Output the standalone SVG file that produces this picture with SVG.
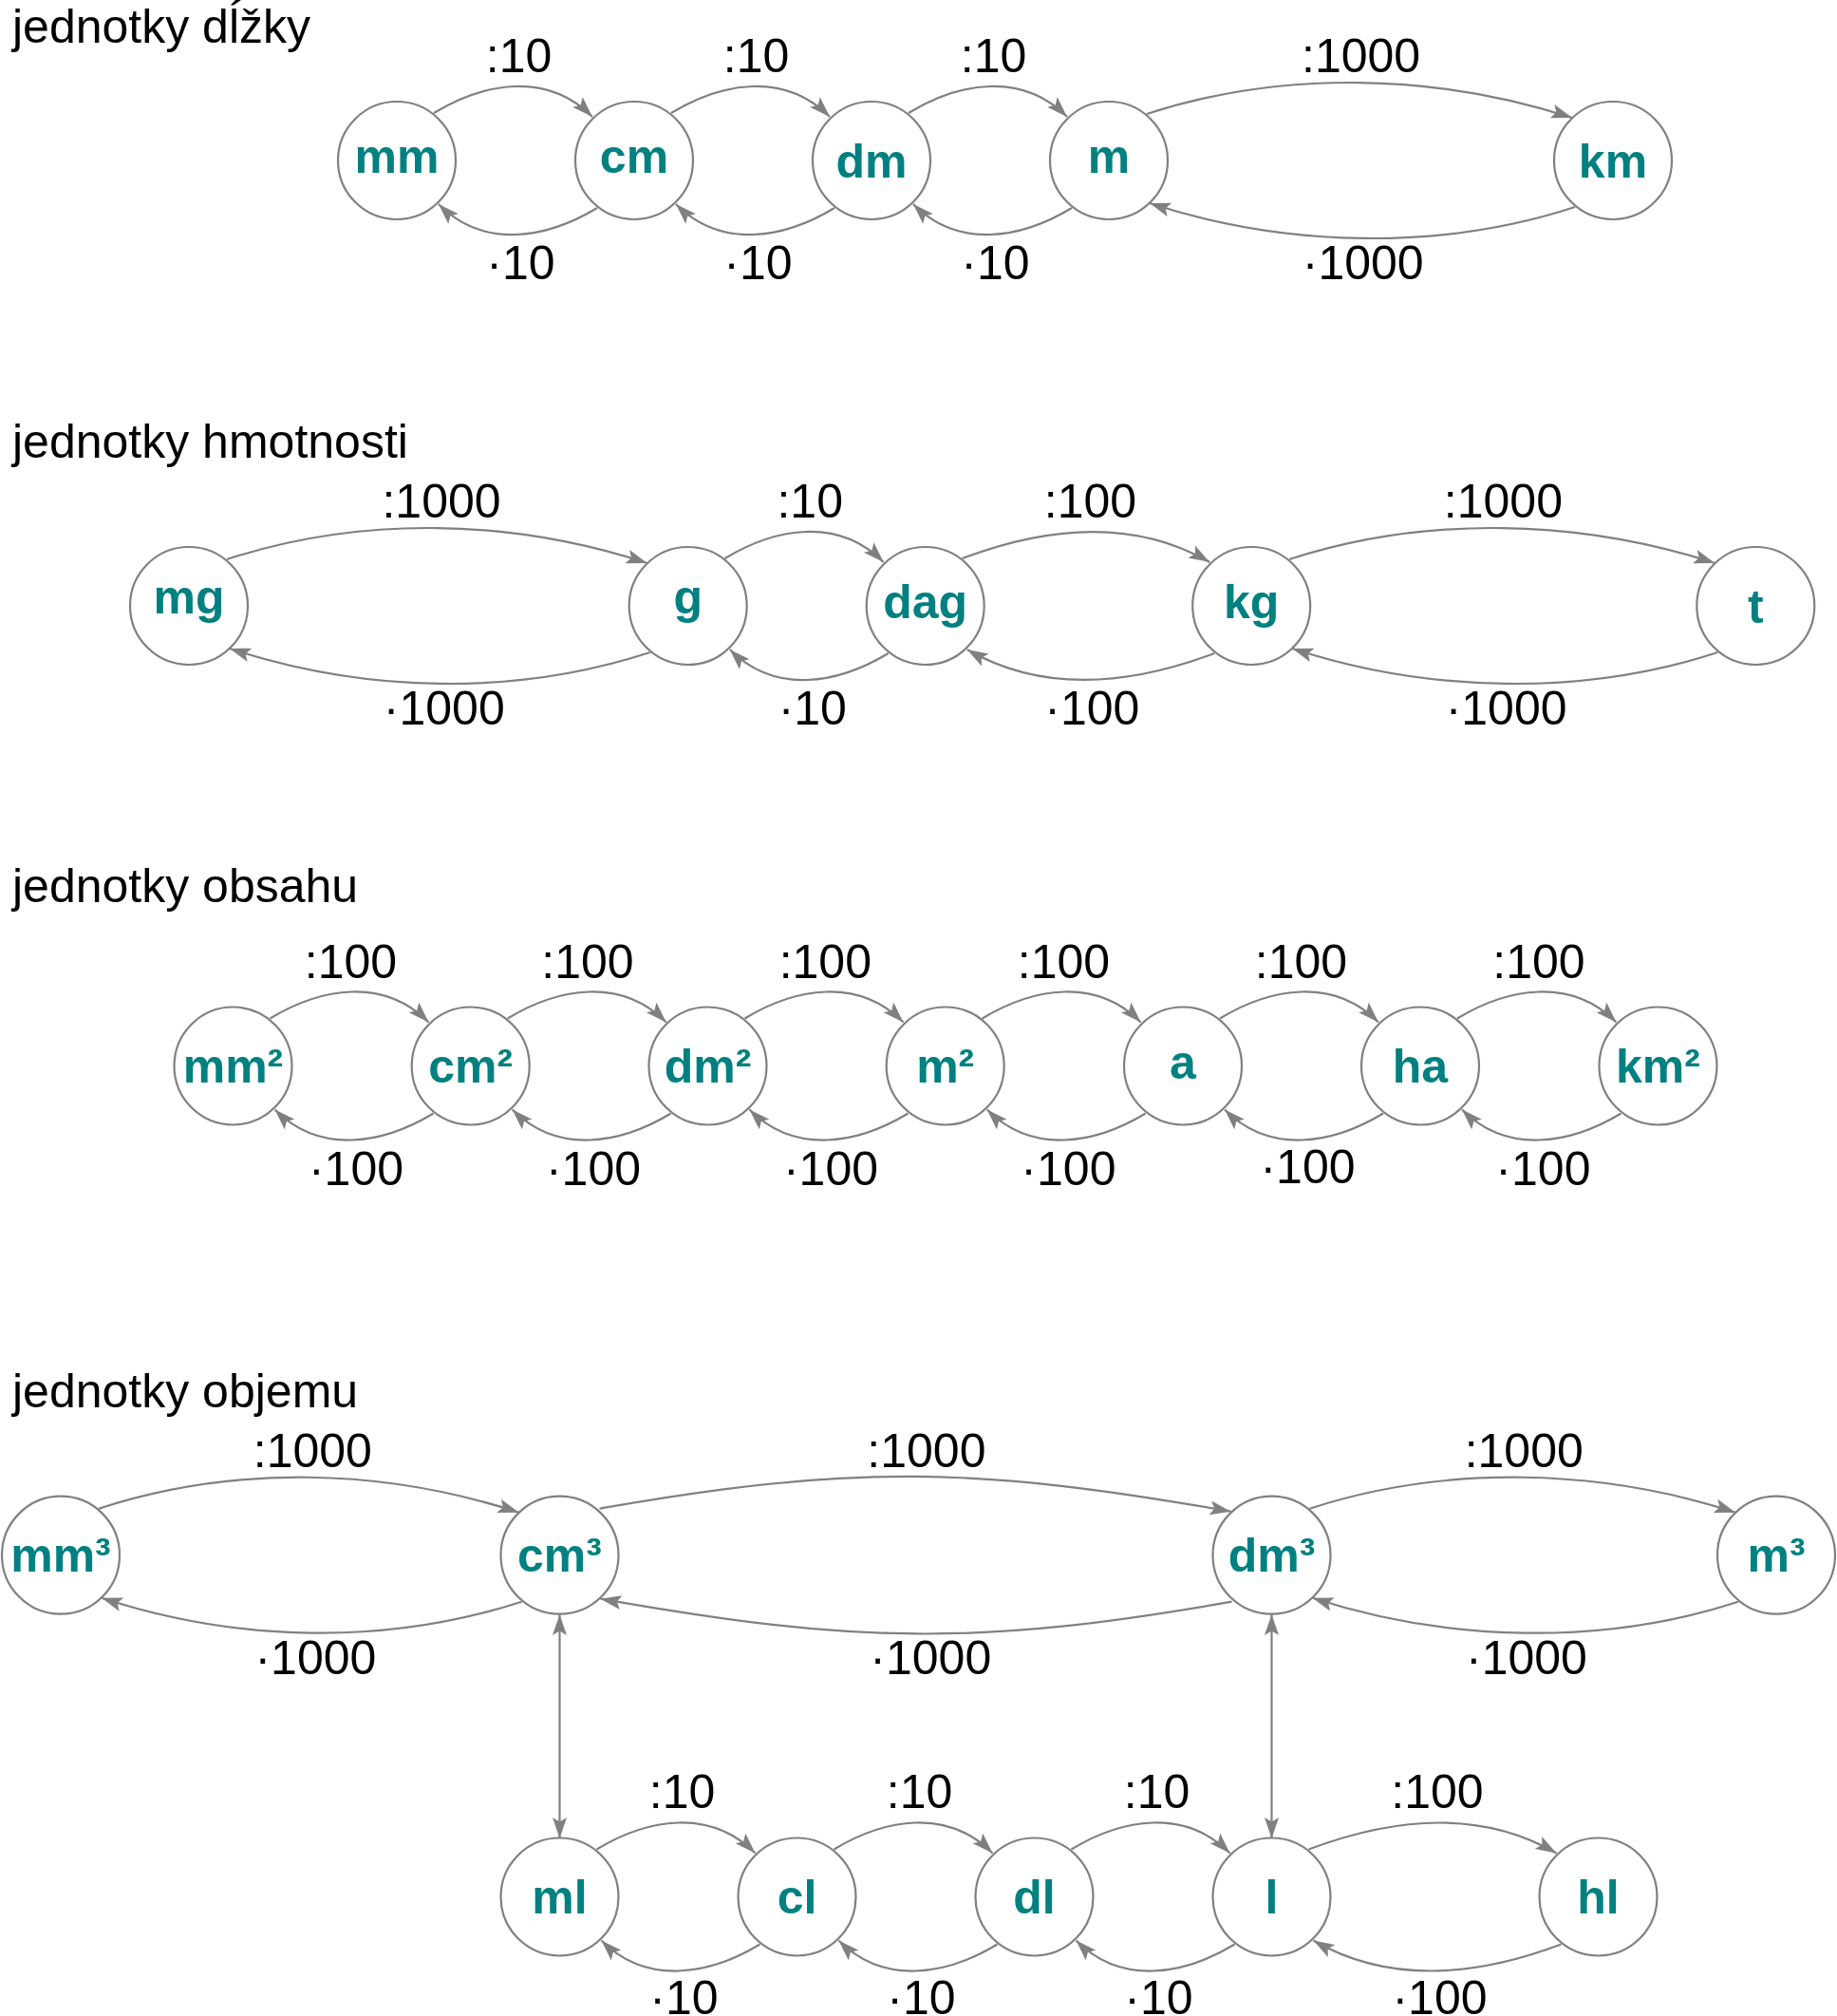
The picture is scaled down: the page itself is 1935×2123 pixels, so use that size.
<svg xmlns="http://www.w3.org/2000/svg" width="1935" height="2123" viewBox="0 0 1935 2123">
<defs>
<style>
.title{font-family:"Liberation Sans",Arial,sans-serif;font-size:50px;fill:#000}
.lbl{font-family:"Liberation Sans",Arial,sans-serif;font-size:50px;fill:#000;text-anchor:middle}
.node circle{fill:#fff;stroke:#808080;stroke-width:2.2}
.node text{font-family:"Liberation Sans",Arial,sans-serif;font-weight:bold;font-size:50px;fill:#008080;text-anchor:middle}
.edges path{fill:none;stroke:#808080;stroke-width:2.2;marker-end:url(#ah)}
.edges path.both{marker-start:url(#ah)}
</style>
<marker id="ah" markerUnits="userSpaceOnUse" markerWidth="24" markerHeight="17" refX="22" refY="7.5" orient="auto-start-reverse"><path d="M0,0 L22,7.5 L0,15 L4.5,7.5 z" fill="#808080"/></marker>
</defs>
<rect width="1935" height="2123" fill="#fff"/>

<g id="titles">
<text class="title" x="13" y="45">jednotky dĺžky</text>
<text class="title" x="13" y="481.7">jednotky hmotnosti</text>
<text class="title" x="13" y="950">jednotky obsahu</text>
<text class="title" x="13" y="1481.7">jednotky objemu</text>
</g>

<g id="nodes">
<g id="len-mm" class="node"><circle cx="418" cy="169" r="62"/><text x="418" y="182">mm</text></g>
<g id="len-cm" class="node"><circle cx="668" cy="169" r="62"/><text x="668" y="182">cm</text></g>
<g id="len-dm" class="node"><circle cx="918" cy="169" r="62"/><text x="918" y="186.5">dm</text></g>
<g id="len-m" class="node"><circle cx="1168" cy="169" r="62"/><text x="1168" y="182">m</text></g>
<g id="len-km" class="node"><circle cx="1699" cy="169" r="62"/><text x="1699" y="186.5">km</text></g>

<g id="mass-mg" class="node"><circle cx="199" cy="638" r="62"/><text x="199" y="646">mg</text></g>
<g id="mass-g" class="node"><circle cx="724.7" cy="638" r="62"/><text x="724.7" y="646">g</text></g>
<g id="mass-dag" class="node"><circle cx="974.7" cy="638" r="62"/><text x="974.7" y="651">dag</text></g>
<g id="mass-kg" class="node"><circle cx="1318.2" cy="638" r="62"/><text x="1318.2" y="651">kg</text></g>
<g id="mass-t" class="node"><circle cx="1849.3" cy="638" r="62"/><text x="1849.3" y="655.5">t</text></g>

<g id="area-mm2" class="node"><circle cx="245.5" cy="1122.5" r="62"/><text x="245.5" y="1140">mm²</text></g>
<g id="area-cm2" class="node"><circle cx="495.7" cy="1122.5" r="62"/><text x="495.7" y="1140">cm²</text></g>
<g id="area-dm2" class="node"><circle cx="745.5" cy="1122.5" r="62"/><text x="745.5" y="1140">dm²</text></g>
<g id="area-m2" class="node"><circle cx="995.7" cy="1122.5" r="62"/><text x="995.7" y="1140">m²</text></g>
<g id="area-a" class="node"><circle cx="1246" cy="1122.5" r="62"/><text x="1246" y="1135.5">a</text></g>
<g id="area-ha" class="node"><circle cx="1496" cy="1122.5" r="62"/><text x="1496" y="1140">ha</text></g>
<g id="area-km2" class="node"><circle cx="1746.5" cy="1122.5" r="62"/><text x="1746.5" y="1140">km²</text></g>

<g id="vol-mm3" class="node"><circle cx="64" cy="1637.7" r="62"/><text x="64" y="1655.2">mm³</text></g>
<g id="vol-cm3" class="node"><circle cx="589.5" cy="1637.7" r="62"/><text x="589.5" y="1655.2">cm³</text></g>
<g id="vol-dm3" class="node"><circle cx="1339.5" cy="1637.7" r="62"/><text x="1339.5" y="1655.2">dm³</text></g>
<g id="vol-m3" class="node"><circle cx="1871" cy="1637.7" r="62"/><text x="1871" y="1655.2">m³</text></g>

<g id="vol-ml" class="node"><circle cx="589.5" cy="1997.5" r="62"/><text x="589.5" y="2015">ml</text></g>
<g id="vol-cl" class="node"><circle cx="839.5" cy="1997.5" r="62"/><text x="839.5" y="2015">cl</text></g>
<g id="vol-dl" class="node"><circle cx="1089.5" cy="1997.5" r="62"/><text x="1089.5" y="2015">dl</text></g>
<g id="vol-l" class="node"><circle cx="1339.5" cy="1997.5" r="62"/><text x="1339.5" y="2015">l</text></g>
<g id="vol-hl" class="node"><circle cx="1683.5" cy="1997.5" r="62"/><text x="1683.5" y="2015">hl</text></g>
</g>

<g id="connectors" class="edges">
<!-- length -->
<path transform="translate(418,169)" d="M39,-50 C92,-82 158,-94 206,-46"/>
<path transform="translate(418,169)" d="M211,50 C158,82 92,94 44,46"/>
<path transform="translate(668,169)" d="M39,-50 C92,-82 158,-94 206,-46"/>
<path transform="translate(668,169)" d="M211,50 C158,82 92,94 44,46"/>
<path transform="translate(918,169)" d="M39,-50 C92,-82 158,-94 206,-46"/>
<path transform="translate(918,169)" d="M211,50 C158,82 92,94 44,46"/>
<path transform="translate(1168,169)" d="M40,-49 C183,-95.6 345,-91.6 488,-45"/>
<path transform="translate(1168,169)" d="M491,49 C348,95.6 186,91.6 43,45"/>
<!-- mass -->
<path transform="translate(199,638)" d="M40,-49 C183,-95.6 339.7,-91.6 482.7,-45"/>
<path transform="translate(199,638)" d="M485.7,49 C342.7,95.6 186,91.6 43,45"/>
<path transform="translate(724.7,638)" d="M39,-50 C92,-82 158,-94 206,-46"/>
<path transform="translate(724.7,638)" d="M211,50 C158,82 92,94 44,46"/>
<path transform="translate(974.7,638)" d="M39,-50 C124,-82 216.5,-94 299.5,-46"/>
<path transform="translate(974.7,638)" d="M304.5,50 C219.5,82 127,94 44,46"/>
<path transform="translate(1318.2,638)" d="M40,-49 C183,-95.6 345.1,-91.6 488.1,-45"/>
<path transform="translate(1318.2,638)" d="M491.1,49 C348.1,95.6 186,91.6 43,45"/>
<!-- area -->
<path transform="translate(245.5,1122.5)" d="M39,-50 C92,-82 158,-94 206,-46"/>
<path transform="translate(245.5,1122.5)" d="M211,50 C158,82 92,94 44,46"/>
<path transform="translate(495.7,1122.5)" d="M39,-50 C92,-82 158,-94 206,-46"/>
<path transform="translate(495.7,1122.5)" d="M211,50 C158,82 92,94 44,46"/>
<path transform="translate(745.5,1122.5)" d="M39,-50 C92,-82 158,-94 206,-46"/>
<path transform="translate(745.5,1122.5)" d="M211,50 C158,82 92,94 44,46"/>
<path transform="translate(995.7,1122.5)" d="M39,-50 C92,-82 158,-94 206,-46"/>
<path transform="translate(995.7,1122.5)" d="M211,50 C158,82 92,94 44,46"/>
<path transform="translate(1246,1122.5)" d="M39,-50 C92,-82 158,-94 206,-46"/>
<path transform="translate(1246,1122.5)" d="M211,50 C158,82 92,94 44,46"/>
<path transform="translate(1496,1122.5)" d="M39,-50 C92,-82 158.5,-94 206.5,-46"/>
<path transform="translate(1496,1122.5)" d="M211.5,50 C158.5,82 92,94 44,46"/>
<!-- volume top -->
<path transform="translate(64,1637.7)" d="M40,-49 C183,-95.6 339.5,-91.6 482.5,-45"/>
<path transform="translate(64,1637.7)" d="M485.5,49 C342.5,95.6 186,91.6 43,45"/>
<path transform="translate(589.5,1637.7)" d="M42,-49 C308,-96 441,-93 707,-46"/>
<path transform="translate(589.5,1637.7)" d="M708,49 C442,96 309,93 43,46"/>
<path transform="translate(1339.5,1637.7)" d="M40,-49 C183,-95.6 345.5,-91.6 488.5,-45"/>
<path transform="translate(1339.5,1637.7)" d="M491.5,49 C348.5,95.6 186,91.6 43,45"/>
<!-- volume vertical -->
<path class="both" d="M589.5,1700 L589.5,1936"/>
<path class="both" d="M1339.5,1700 L1339.5,1936"/>
<!-- volume bottom -->
<path transform="translate(589.5,1997.5)" d="M39,-50 C92,-82 158,-94 206,-46"/>
<path transform="translate(589.5,1997.5)" d="M211,50 C158,82 92,94 44,46"/>
<path transform="translate(839.5,1997.5)" d="M39,-50 C92,-82 158,-94 206,-46"/>
<path transform="translate(839.5,1997.5)" d="M211,50 C158,82 92,94 44,46"/>
<path transform="translate(1089.5,1997.5)" d="M39,-50 C92,-82 158,-94 206,-46"/>
<path transform="translate(1089.5,1997.5)" d="M211,50 C158,82 92,94 44,46"/>
<path transform="translate(1339.5,1997.5)" d="M39,-50 C124,-82 217,-94 300,-46"/>
<path transform="translate(1339.5,1997.5)" d="M305,50 C220,82 127,94 44,46"/>
</g>

<g id="edge-labels">
<text class="lbl" x="546.5" y="76">:10</text>
<text class="lbl" x="796.5" y="76">:10</text>
<text class="lbl" x="1046.5" y="76">:10</text>
<text class="lbl" x="1433.6" y="76">:1000</text>
<text class="lbl" x="548.5" y="294">·10</text>
<text class="lbl" x="798.5" y="294">·10</text>
<text class="lbl" x="1048.5" y="294">·10</text>
<text class="lbl" x="1435.7" y="294">·1000</text>

<text class="lbl" x="465" y="545">:1000</text>
<text class="lbl" x="853.2" y="545">:10</text>
<text class="lbl" x="1148.4" y="545">:100</text>
<text class="lbl" x="1583.4" y="545">:1000</text>
<text class="lbl" x="467.8" y="763">·1000</text>
<text class="lbl" x="855.8" y="763">·10</text>
<text class="lbl" x="1150.3" y="763">·100</text>
<text class="lbl" x="1586.6" y="763">·1000</text>

<text class="lbl" x="369.5" y="1029.5">:100</text>
<text class="lbl" x="619" y="1029.5">:100</text>
<text class="lbl" x="869.3" y="1029.5">:100</text>
<text class="lbl" x="1120.4" y="1029.5">:100</text>
<text class="lbl" x="1370.4" y="1029.5">:100</text>
<text class="lbl" x="1621" y="1029.5">:100</text>
<text class="lbl" x="375" y="1247.5">·100</text>
<text class="lbl" x="625" y="1247.5">·100</text>
<text class="lbl" x="875" y="1247.5">·100</text>
<text class="lbl" x="1125.4" y="1247.5">·100</text>
<text class="lbl" x="1377.5" y="1245.5">·100</text>
<text class="lbl" x="1625.4" y="1247.5">·100</text>

<text class="lbl" x="329.3" y="1544.7">:1000</text>
<text class="lbl" x="975.9" y="1544.7">:1000</text>
<text class="lbl" x="1605.2" y="1544.7">:1000</text>
<text class="lbl" x="332.4" y="1762.7">·1000</text>
<text class="lbl" x="980.3" y="1762.7">·1000</text>
<text class="lbl" x="1608" y="1762.7">·1000</text>

<text class="lbl" x="718.5" y="1903.5">:10</text>
<text class="lbl" x="968.5" y="1903.5">:10</text>
<text class="lbl" x="1218.5" y="1903.5">:10</text>
<text class="lbl" x="1514" y="1903.5">:100</text>
<text class="lbl" x="720.5" y="2120.5">·10</text>
<text class="lbl" x="970.5" y="2120.5">·10</text>
<text class="lbl" x="1220.5" y="2120.5">·10</text>
<text class="lbl" x="1516.5" y="2120.5">·100</text>
</g>
</svg>
